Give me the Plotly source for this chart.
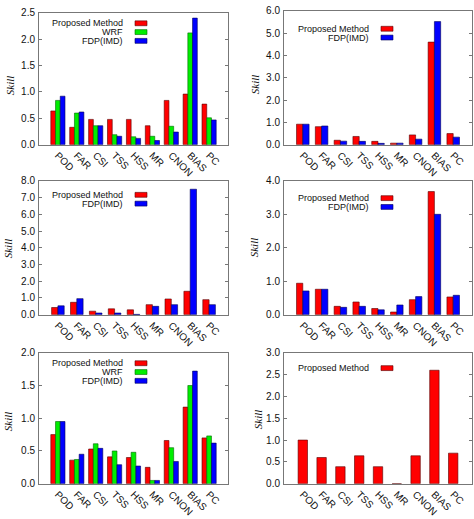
import plotly.graph_objects as go
from plotly.subplots import make_subplots

W, H = 474, 519

categories = ["POD", "FAR", "CSI", "TSS", "HSS", "MR", "CNON", "BIAS", "PC"]

# panel (a) top-left
a_proposed = [0.64, 0.33, 0.48, 0.48, 0.48, 0.36, 0.84, 0.96, 0.77]
a_wrf = [0.84, 0.60, 0.36, 0.19, 0.15, 0.16, 0.35, 2.12, 0.51]
a_fdp = [0.92, 0.62, 0.36, 0.16, 0.12, 0.08, 0.24, 2.40, 0.47]

# panel (b) top-right
b_proposed = [0.92, 0.81, 0.20, 0.37, 0.15, 0.07, 0.44, 4.60, 0.50]
b_fdp = [0.92, 0.84, 0.16, 0.15, 0.06, 0.07, 0.25, 5.52, 0.34]

# panel (c) middle-left
c_proposed = [0.43, 0.74, 0.21, 0.35, 0.29, 0.60, 0.94, 1.40, 0.90]
c_fdp = [0.53, 0.96, 0.10, 0.10, 0.02, 0.50, 0.60, 7.50, 0.60]

# panel (d) middle-right
d_proposed = [0.94, 0.76, 0.25, 0.38, 0.185, 0.08, 0.45, 3.68, 0.53]
d_fdp = [0.71, 0.76, 0.22, 0.25, 0.145, 0.29, 0.54, 3.00, 0.58]

# panel (e) bottom-left
e_proposed = [0.75, 0.36, 0.53, 0.41, 0.40, 0.25, 0.66, 1.17, 0.70]
e_wrf = [0.95, 0.37, 0.61, 0.50, 0.48, 0.05, 0.55, 1.50, 0.73]
e_fdp = [0.95, 0.45, 0.54, 0.29, 0.27, 0.05, 0.34, 1.72, 0.62]

# panel (f) bottom-right
f_proposed = [1.00, 0.60, 0.39, 0.64, 0.39, 0.00, 0.64, 2.60, 0.70]

RED, GREEN, BLUE = "#ff0000", "#00ee00", "#0000ff"
EDGE = {"Proposed Method": "#550000", "WRF": "#006600", "FDP(IMD)": "#000055"}
COLORS = {"Proposed Method": RED, "WRF": GREEN, "FDP(IMD)": BLUE}
FONT = "Liberation Sans, Arial"

# one dict per panel: series, y-range, dtick, plot box in pixels, legend/title spots
panels = [
    dict(series=[("Proposed Method", a_proposed), ("WRF", a_wrf), ("FDP(IMD)", a_fdp)],
         ymax=2.5, dtick=0.5, box=(39, 228, 7, 142),
         leg=(123, 17.7), title=(10, 81)),
    dict(series=[("Proposed Method", b_proposed), ("FDP(IMD)", b_fdp)],
         ymax=6, dtick=1, box=(284, 472, 5, 142),
         leg=(369, 23.3), title=(255, 80)),
    dict(series=[("Proposed Method", c_proposed), ("FDP(IMD)", c_fdp)],
         ymax=8, dtick=1, box=(39, 228, 179, 316),
         leg=(123, 193.3), title=(8, 248)),
    dict(series=[("Proposed Method", d_proposed), ("FDP(IMD)", d_fdp)],
         ymax=4, dtick=1, box=(284, 472, 179, 316),
         leg=(369, 196.7), title=(254, 247)),
    dict(series=[("Proposed Method", e_proposed), ("WRF", e_wrf), ("FDP(IMD)", e_fdp)],
         ymax=2, dtick=0.5, box=(39, 228, 355, 489),
         leg=(123, 365.7), title=(8, 425)),
    dict(series=[("Proposed Method", f_proposed)],
         ymax=3, dtick=0.5, box=(284, 472, 355, 489),
         leg=(369, 370.7), title=(258, 423)),
]

fig = make_subplots(rows=3, cols=2)
annotations = []
shapes = []
xs = list(range(len(categories)))

for i, p in enumerate(panels):
    row, col = i // 2 + 1, i % 2 + 1
    n = len(p["series"])
    w = 1.0 / (n + 1)  # gnuplot clustered histogram: 1/(n+gap) per bar
    for k, (name, vals) in enumerate(p["series"]):
        fig.add_trace(go.Bar(x=xs, y=vals, name=name, showlegend=False,
                             width=w, offset=-n * w / 2 + k * w,
                             marker=dict(color=COLORS[name],
                                         line=dict(color=EDGE[name], width=0.6))),
                      row=row, col=col)
    x0, x1, y0, y1 = p["box"]
    ax = "" if i == 0 else str(i + 1)
    fig.layout["xaxis" + ax].update(
        domain=[x0 / W, x1 / W], range=[-1, 9], tickvals=xs, ticktext=categories,
        tickangle=45, ticks="", showline=True, mirror=True, linecolor="#777",
        linewidth=1, showgrid=False, zeroline=False,
        tickfont=dict(family=FONT, size=10, color="#111"))
    fig.layout["yaxis" + ax].update(
        domain=[1 - y1 / H, 1 - y0 / H], range=[0, p["ymax"]], dtick=p["dtick"],
        tickformat=".1f", ticks="inside", ticklen=3, tickcolor="#777",
        showline=True, mirror="ticks", linecolor="#777", linewidth=1,
        showgrid=False, zeroline=False, ticklabelstandoff=1,
        tickfont=dict(family=FONT, size=10, color="#111"))

    # gnuplot-style key: text right-aligned, swatch on the right
    lx, ly = p["leg"]
    for k, (name, _) in enumerate(p["series"]):
        yy = ly + k * 9.0
        annotations.append(dict(x=(lx + 2) / W, y=1 - yy / H, xref="paper", yref="paper",
                                text=name, showarrow=False, xanchor="right",
                                yanchor="middle",
                                font=dict(family=FONT, size=9, color="#111")))
        shapes.append(dict(type="rect", xref="paper", yref="paper",
                           x0=(lx + 12) / W, x1=(lx + 24) / W,
                           y0=1 - (yy + 2.5) / H, y1=1 - (yy - 2.5) / H,
                           fillcolor=COLORS[name],
                           line=dict(color=EDGE[name], width=0.6)))

    tx, ty = p["title"]
    annotations.append(dict(x=tx / W, y=1 - ty / H, xref="paper", yref="paper",
                            text="<i>Skill</i>", showarrow=False, textangle=-90,
                            xanchor="center", yanchor="middle",
                            font=dict(family="Liberation Serif, Times New Roman",
                                      size=11, color="#111")))

fig.update_layout(
    width=W, height=H, margin=dict(l=0, r=0, t=0, b=0),
    paper_bgcolor="white", plot_bgcolor="white", barmode="overlay",
    annotations=annotations, shapes=shapes,
)

# drop the page's default body margin so the figure sits at the window corner
fig.write_html("out.html", config={"displayModeBar": False},
               post_script="document.body.style.margin = '0';")
